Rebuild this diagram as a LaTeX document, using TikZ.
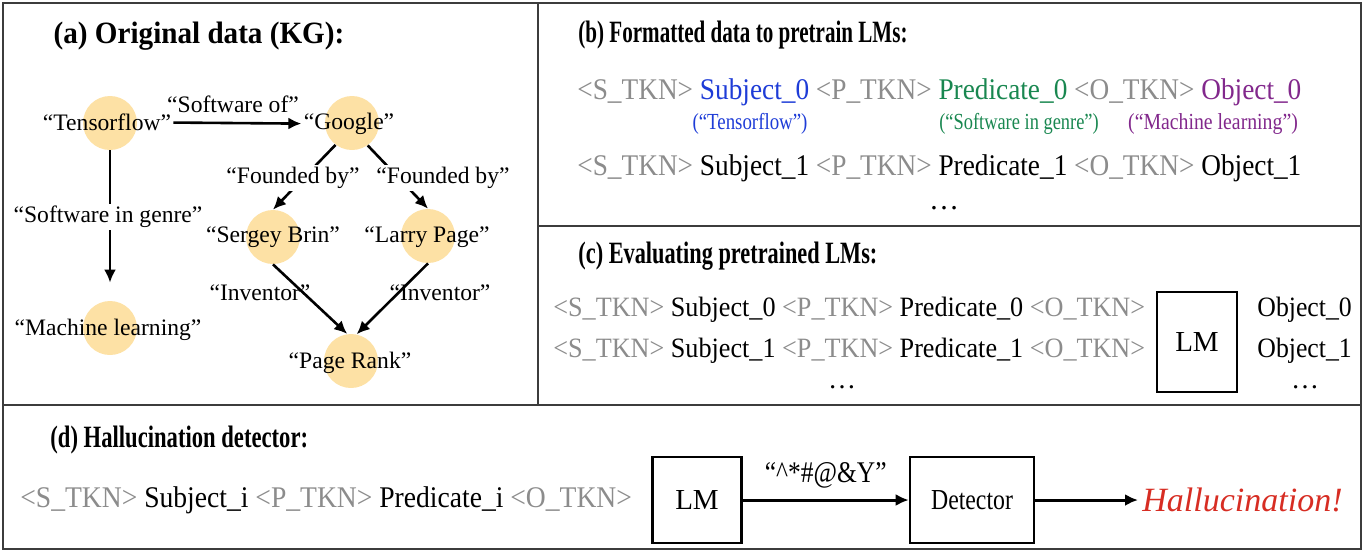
\documentclass[tikz,border=0pt]{standalone}
\usepackage{fontspec}
\setmainfont{Liberation Serif}
\usepackage{graphicx}
\usetikzlibrary{arrows.meta}

\definecolor{tkngray}{RGB}{140,140,140}
\definecolor{subjblue}{RGB}{30,60,215}
\definecolor{predgreen}{RGB}{25,135,80}
\definecolor{objpurple}{RGB}{130,40,140}
\definecolor{halred}{RGB}{215,45,35}
\definecolor{kgfill}{RGB}{253,225,165}
\definecolor{framegray}{RGB}{60,60,60}

\newcommand{\stkn}{\textcolor{tkngray}{<S\_TKN>}}
\newcommand{\ptkn}{\textcolor{tkngray}{<P\_TKN>}}
\newcommand{\otkn}{\textcolor{tkngray}{<O\_TKN>}}
\newcommand{\sqz}[2]{\scalebox{#1}[1]{#2}}

\tikzset{
	frameline/.style={draw=framegray, line width=0.6pt},
	paneltitle/.style={font=\fontsize{15.5}{18}\selectfont\bfseries, inner sep=0pt},
	kgcirc/.style={circle, fill=kgfill, minimum size=27pt, inner sep=0pt},
	kgtext/.style={font=\fontsize{11.8}{14}\selectfont, inner sep=1pt},
	kgedge/.style={->, line width=1.3pt},
	rellabel/.style={font=\fontsize{11.8}{14}\selectfont, fill=white, inner sep=1pt},
	rowb/.style={font=\fontsize{15}{18}\selectfont, inner sep=0pt},
	subb/.style={font=\fontsize{11.5}{13}\selectfont, inner sep=0pt},
	rowc/.style={font=\fontsize{14}{16}\selectfont, inner sep=0pt},
	rowd/.style={font=\fontsize{15}{18}\selectfont, inner sep=0pt},
	lmbox/.style={draw, line width=1.3pt, font=\fontsize{14.5}{17}\selectfont},
	flow/.style={->, line width=1.5pt}
}

\begin{document}
\begin{tikzpicture}[x=0.5pt, y=-0.5pt, >={Latex[length=6.5pt,width=6pt]}]
	\useasboundingbox (0,0) rectangle (1364,554);
	% panel frames
	\draw[frameline] (3,3) rectangle (1361,549);
	\draw[frameline] (538,3) -- (538,405);
	\draw[frameline] (3,405) -- (1361,405);
	\draw[frameline] (538,226) -- (1361,226);

	% (a) knowledge graph
	\node[paneltitle] (ta) at (199,36) {\sqz{0.94}{(a) Original data (KG):}};
	\node[kgcirc] (tfc) at (110,123) {};
	\node[kgcirc] (gc)  at (352,123) {};
	\node[kgcirc] (sbc) at (273,237) {};
	\node[kgcirc] (lpc) at (428,236) {};
	\node[kgcirc] (mlc) at (110,328) {};
	\node[kgcirc] (prc) at (351,361) {};
	\node[kgtext] (tf) at (107,122) {“Tensorflow”};
	\node[kgtext] (g)  at (349,124) {“Google”};
	\node[kgtext] (sb) at (273,237) {“Sergey Brin”};
	\node[kgtext] (lp) at (427,237) {“Larry Page”};
	\node[kgtext] (ml) at (108,330) {“Machine learning”};
	\node[kgtext] (pr) at (350,363) {“Page Rank”};
	\draw[kgedge] (tf) -- (g);
	\draw[kgedge, shorten >=9pt] (tfc) -- (mlc);
	\draw[kgedge] (gc.233) -- (sbc.north);
	\draw[kgedge] (gc.305) -- (lpc.north);
	\draw[kgedge] (sbc.south) -- (prc.98);
	\draw[kgedge] (lpc.south) -- (prc.78);
	\node[kgtext] (swof) at (233,104) {“Software of”};
	\node[rellabel] (swgen) at (108,217) {“Software in genre”};
	\node[rellabel] (fb1) at (293,178) {“Founded by”};
	\node[rellabel] (fb2) at (443,178) {“Founded by”};
	\node[kgtext] (inv1) at (260,293) {“Inventor”};
	\node[kgtext] (inv2) at (440,293) {“Inventor”};

	% (b) pretraining data
	\node[paneltitle, anchor=west] (tb) at (578,35) {\sqz{0.68}{(b) Formatted data to pretrain LMs:}};
	\node[rowb, anchor=west] (b0) at (577,92) {\sqz{0.91}{\stkn{} \textcolor{subjblue}{Subject\_0} \ptkn{} \textcolor{predgreen}{Predicate\_0} \otkn{} \textcolor{objpurple}{Object\_0}}};
	\node[subb, text=subjblue] (b0s) at (750,124) {\sqz{0.82}{(“Tensorflow”)}};
	\node[subb, text=predgreen] (b0p) at (1019,124) {\sqz{0.8}{(“Software in genre”)}};
	\node[subb, text=objpurple] (b0o) at (1213,124) {\sqz{0.86}{(“Machine learning”)}};
	\node[rowb, anchor=west] (b1) at (577,168) {\sqz{0.91}{\stkn{} Subject\_1 \ptkn{} Predicate\_1 \otkn{} Object\_1}};
	\node[rowb] (bdots) at (944,208) {\dots};

	% (c) evaluation
	\node[paneltitle, anchor=west] (tc) at (578,256) {\sqz{0.72}{(c) Evaluating pretrained LMs:}};
	\node[rowc, anchor=west] (c0) at (553,310) {\sqz{0.935}{\stkn{} Subject\_0 \ptkn{} Predicate\_0 \otkn}};
	\node[rowc, anchor=west] (c1) at (553,351) {\sqz{0.935}{\stkn{} Subject\_1 \ptkn{} Predicate\_1 \otkn}};
	\node[rowc] (cdots) at (842,387) {\dots};
	\node[lmbox, minimum width=40pt, minimum height=50pt] (lmc) at (1197,342) {LM};
	\node[rowc, anchor=west] (oc0) at (1257,310) {\sqz{0.92}{Object\_0}};
	\node[rowc, anchor=west] (oc1) at (1257,351) {\sqz{0.92}{Object\_1}};
	\node[rowc] (ocdots) at (1305,387) {\dots};

	% (d) detector
	\node[paneltitle, anchor=west] (td) at (50,440) {\sqz{0.73}{(d) Hallucination detector:}};
	\node[rowd, anchor=west] (d0) at (20,500) {\sqz{0.92}{\stkn{} Subject\_i \ptkn{} Predicate\_i \otkn}};
	\node[lmbox, minimum width=44.5pt, minimum height=43pt] (lmd) at (697,500) {LM};
	\node[lmbox, minimum width=62pt, minimum height=43pt] (det) at (972,500) {\sqz{0.82}{Detector}};
	\node[rowd, text=halred, anchor=west, inner sep=2pt] (hal) at (1138,500) {\fontsize{17}{20}\selectfont\itshape Hallucination!};
	\draw[flow] (lmd) -- node[rowd, above=5pt] (noise) {\sqz{0.85}{“\textasciicircum*\#@\&Y”}} (det);
	\draw[flow] (det) -- (hal);
\end{tikzpicture}
\end{document}
